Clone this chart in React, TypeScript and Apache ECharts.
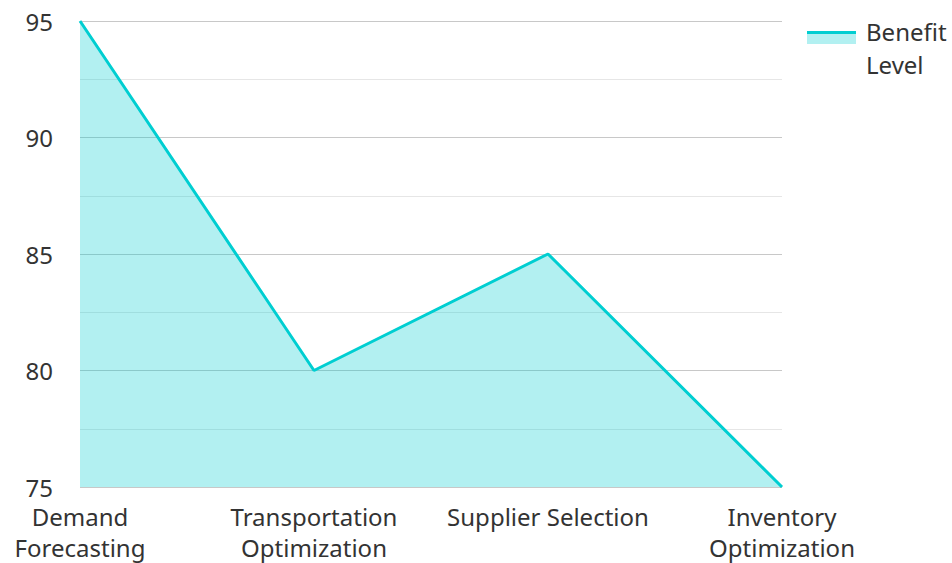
import React, { useEffect, useRef } from "react";
import * as echarts from "echarts";

const categories = ["Demand\nForecasting", "Transportation\nOptimization", "Supplier Selection", "Inventory\nOptimization"];
const benefitLevel = [95, 80, 85, 75];
const seriesName = "Benefit Level";
const yTicks = { min: 75, max: 95, interval: 5 };

export default function App() {
  const ref = useRef<HTMLDivElement>(null);
  useEffect(() => {
    if (!ref.current) return;
    const chart = echarts.init(ref.current, null, { renderer: "svg" });
    const font = "'Noto Sans', sans-serif";
    chart.setOption({
      animation: false,
      textStyle: { fontFamily: font },
      grid: { left: 80, right: 170, top: 21, bottom: 69, containLabel: false },
      xAxis: {
        type: "category",
        data: categories,
        boundaryGap: false,
        axisLine: { show: false },
        axisTick: { show: false },
        axisLabel: { color: "#333", fontSize: 24, fontFamily: font, lineHeight: 31, margin: 14, interval: 0 },
        splitLine: { show: false },
      },
      yAxis: {
        type: "value",
        min: yTicks.min,
        max: yTicks.max,
        interval: yTicks.interval,
        axisLine: { show: false },
        axisTick: { show: false },
        axisLabel: { color: "#333", fontSize: 24, fontFamily: font, margin: 27 },
        splitLine: { show: true, lineStyle: { color: "#c8c8c8", width: 1 } },
        minorTick: { show: false, splitNumber: 2 },
        minorSplitLine: { show: true, lineStyle: { color: "#e6e6e6", width: 1 } },
      },
      series: [
        {
          name: seriesName,
          type: "line",
          data: benefitLevel,
          symbol: "none",
          lineStyle: { color: "#00ced1", width: 3 },
          itemStyle: { color: "#00ced1" },
          areaStyle: { color: "rgba(0,206,209,0.3)", opacity: 1, origin: "start" },
        },
      ],
      graphic: [
        { type: "rect", left: 807, top: 31, shape: { width: 49, height: 13 }, style: { fill: "rgba(0,206,209,0.3)" } },
        { type: "rect", left: 807, top: 31, shape: { width: 49, height: 3 }, style: { fill: "#00ced1" } },
        {
          type: "text",
          left: 866,
          top: 15,
          style: { text: "Benefit\nLevel", fontSize: 24, fontFamily: font, fill: "#333", lineHeight: 33 },
        },
      ],
    });
    return () => chart.dispose();
  }, []);
  return <div ref={ref} style={{ width: 952, height: 563, position: "absolute", left: 0, top: 0 }} />;
}
